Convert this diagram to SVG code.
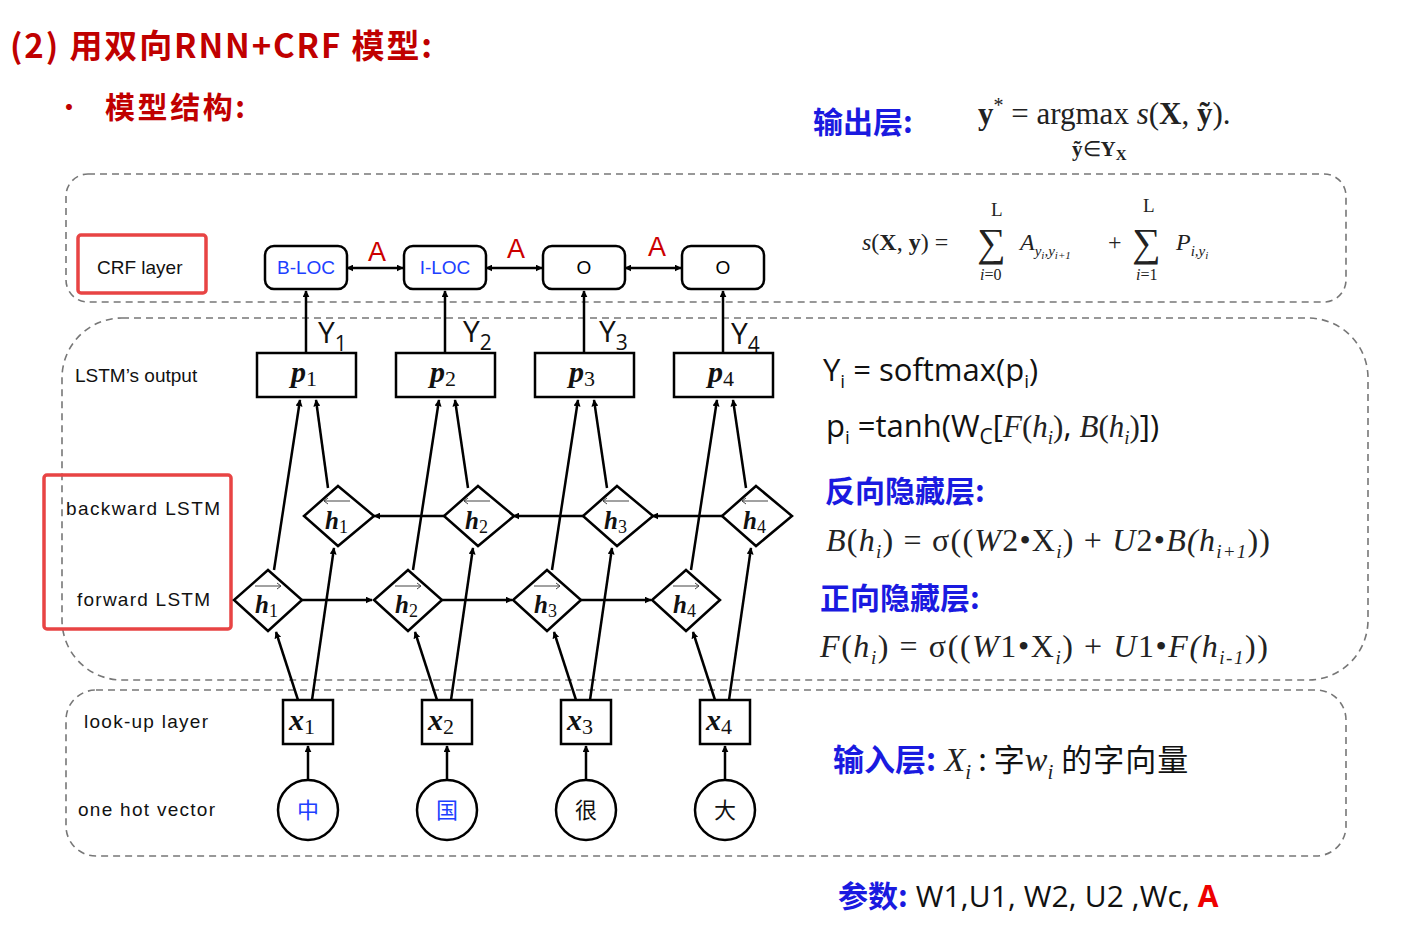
<svg xmlns="http://www.w3.org/2000/svg" width="1406" height="947" viewBox="0 0 1406 947">
<defs>
<marker id="ah" viewBox="0 0 10 10" refX="9" refY="5" markerWidth="7" markerHeight="7" orient="auto-start-reverse" markerUnits="userSpaceOnUse"><path d="M0,0 L10,5 L0,10 z" fill="#000"/></marker>
<style>
.dash{fill:none;stroke:#777;stroke-width:1.6;stroke-dasharray:7 5}
.red{fill:none;stroke:#e84444;stroke-width:3.5}
.lbl{font-family:"Liberation Sans",Arial,sans-serif;font-size:19px;fill:#111}
.box{fill:#fff;stroke:#000;stroke-width:2.5}
.dia{fill:#fff;stroke:#000;stroke-width:2.5}
.ln{stroke:#000;stroke-width:2.5;fill:none;marker-end:url(#ah)}
.m{font-family:"Liberation Serif","Times New Roman",serif;font-style:italic;font-weight:bold;fill:#111}
.cn{font-family:"Noto Sans CJK SC",sans-serif;font-weight:bold;fill:#1a1ae0}
.f{font-family:"Open Sans","Liberation Sans",sans-serif;fill:#111}
.se{font-family:"Liberation Serif",serif;fill:#222}
.tag{font-family:"Liberation Sans",sans-serif;font-size:19px}
.A{font-family:"Liberation Sans",sans-serif;font-size:27px;fill:#c00}
.ar{stroke:#444;stroke-width:1;fill:none}
</style>
</defs>
<text x="10" y="58" font-family="Noto Sans CJK SC,sans-serif" font-weight="bold" font-size="33" fill="#c00000" textLength="422">(2) 用双向RNN+CRF 模型:</text>
<text x="55" y="118" font-family="Noto Sans CJK SC,sans-serif" font-size="28" fill="#c00000">•</text>
<text x="105" y="118" font-family="Noto Sans CJK SC,sans-serif" font-weight="bold" font-size="30" fill="#c00000" textLength="140">模型结构:</text>
<text x="813" y="133" class="cn" style="font-size:30px">输出层:</text>
<text x="978" y="124" class="se" style="font-size:31px"><tspan font-weight="bold">y</tspan><tspan dy="-12" style="font-size:20px">*</tspan><tspan dy="12"> = argmax </tspan><tspan font-style="italic">s</tspan>(<tspan font-weight="bold">X</tspan>, <tspan font-weight="bold">ỹ</tspan>).</text>
<text x="1072" y="156" class="se" style="font-size:21px"><tspan font-weight="bold">ỹ</tspan>∈<tspan font-weight="bold">Y</tspan><tspan font-weight="bold" dy="4" style="font-size:15px">X</tspan></text>
<rect class="dash" x="66" y="174" width="1280" height="128" rx="22"/>
<rect class="dash" x="62" y="318" width="1306" height="362" rx="60"/>
<rect class="dash" x="66" y="690" width="1280" height="166" rx="30"/>
<g id="formula-s" class="se">
<text x="862" y="250" style="font-size:24px"><tspan font-style="italic">s</tspan>(<tspan font-weight="bold">X</tspan>, <tspan font-weight="bold">y</tspan>) =</text>
<text x="977" y="256" style="font-size:40px">∑</text>
<text x="991" y="216" style="font-size:19px">L</text>
<text x="980" y="280" style="font-size:16px"><tspan font-style="italic">i</tspan>=0</text>
<text x="1020" y="250" font-style="italic" style="font-size:24px">A<tspan dy="6" style="font-size:15px">y<tspan dy="3" style="font-size:11px">i</tspan><tspan dy="-3">,y</tspan><tspan dy="3" style="font-size:11px">i+1</tspan></tspan></text>
<text x="1108" y="250" style="font-size:24px">+</text>
<text x="1132" y="256" style="font-size:40px">∑</text>
<text x="1143" y="212" style="font-size:19px">L</text>
<text x="1136" y="280" style="font-size:16px"><tspan font-style="italic">i</tspan>=1</text>
<text x="1176" y="250" font-style="italic" style="font-size:24px">P<tspan dy="6" style="font-size:15px">i,y<tspan dy="3" style="font-size:11px">i</tspan></tspan></text>
</g>
<rect class="red" x="78" y="235" width="128" height="58" rx="3"/>
<rect class="red" x="44" y="475" width="187" height="154" rx="3"/>
<text class="lbl" x="97" y="274">CRF layer</text>
<text class="lbl" x="75" y="382">LSTM’s output</text>
<text class="lbl" x="66" y="515" textLength="154">backward LSTM</text>
<text class="lbl" x="77" y="606" textLength="133">forward LSTM</text>
<text class="lbl" x="84" y="728" textLength="124">look-up layer</text>
<text class="lbl" x="78" y="816" textLength="137">one hot vector</text>
<g id="connectors">
<path class="ln" d="M347,268 H403" marker-start="url(#ah)"/>
<path class="ln" d="M486,268 H542" marker-start="url(#ah)"/>
<path class="ln" d="M625,268 H681" marker-start="url(#ah)"/>
<path class="ln" d="M306,353 V291"/><path class="ln" d="M445,353 V291"/><path class="ln" d="M584,353 V291"/><path class="ln" d="M723,353 V291"/>
<path class="ln" d="M274,570 L300,400"/><path class="ln" d="M328,488 L316,400"/>
<path class="ln" d="M413,570 L439,400"/><path class="ln" d="M468,488 L455,400"/>
<path class="ln" d="M552,570 L578,400"/><path class="ln" d="M607,488 L594,400"/>
<path class="ln" d="M691,570 L717,400"/><path class="ln" d="M746,488 L733,400"/>
<path class="ln" d="M722,516 H652"/><path class="ln" d="M583,516 H513"/><path class="ln" d="M444,516 H374"/>
<path class="ln" d="M302,600 H372"/><path class="ln" d="M442,600 H512"/><path class="ln" d="M581,600 H651"/>
<path class="ln" d="M298,700 L276,632"/><path class="ln" d="M312,700 L334,548"/>
<path class="ln" d="M437,700 L415,632"/><path class="ln" d="M451,700 L473,548"/>
<path class="ln" d="M576,700 L554,632"/><path class="ln" d="M590,700 L612,548"/>
<path class="ln" d="M715,700 L693,632"/><path class="ln" d="M729,700 L751,548"/>
<path class="ln" d="M308,780 V746"/><path class="ln" d="M447,780 V746"/><path class="ln" d="M586,780 V746"/><path class="ln" d="M725,780 V746"/>
</g>
<text class="A" x="368" y="261">A</text><text class="A" x="507" y="258">A</text><text class="A" x="648" y="256">A</text>
<g font-family="Open Sans,Liberation Sans,sans-serif" font-size="30" fill="#111">
<text x="318" y="343">Y<tspan font-size="21" dy="8">1</tspan></text>
<text x="463" y="342">Y<tspan font-size="21" dy="8">2</tspan></text>
<text x="599" y="342">Y<tspan font-size="21" dy="8">3</tspan></text>
<text x="731" y="344">Y<tspan font-size="21" dy="8">4</tspan></text>
</g>
<g id="crf1"><rect class="box" x="265" y="246" width="82" height="43" rx="9"/><text class="tag" x="306" y="274" text-anchor="middle" fill="#2040ff">B-LOC</text></g>
<g id="crf2"><rect class="box" x="404" y="246" width="82" height="43" rx="9"/><text class="tag" x="445" y="274" text-anchor="middle" fill="#2040ff">I-LOC</text></g>
<g id="crf3"><rect class="box" x="543" y="246" width="82" height="43" rx="9"/><text class="tag" x="584" y="274" text-anchor="middle">O</text></g>
<g id="crf4"><rect class="box" x="682" y="246" width="82" height="43" rx="9"/><text class="tag" x="723" y="274" text-anchor="middle">O</text></g>
<g style="font-size:30px">
<g id="p1"><rect class="box" x="257" y="353" width="99" height="44"/><text class="m" x="291" y="382">p<tspan font-style="normal" font-weight="normal" dy="4" style="font-size:22px">1</tspan></text></g>
<g id="p2"><rect class="box" x="396" y="353" width="99" height="44"/><text class="m" x="430" y="382">p<tspan font-style="normal" font-weight="normal" dy="4" style="font-size:22px">2</tspan></text></g>
<g id="p3"><rect class="box" x="535" y="353" width="99" height="44"/><text class="m" x="569" y="382">p<tspan font-style="normal" font-weight="normal" dy="4" style="font-size:22px">3</tspan></text></g>
<g id="p4"><rect class="box" x="674" y="353" width="99" height="44"/><text class="m" x="708" y="382">p<tspan font-style="normal" font-weight="normal" dy="4" style="font-size:22px">4</tspan></text></g>
<g id="x1"><rect class="box" x="283" y="700" width="50" height="44"/><text class="m" x="289" y="730">x<tspan font-style="normal" font-weight="normal" dy="4" style="font-size:22px">1</tspan></text></g>
<g id="x2"><rect class="box" x="422" y="700" width="50" height="44"/><text class="m" x="428" y="730">x<tspan font-style="normal" font-weight="normal" dy="4" style="font-size:22px">2</tspan></text></g>
<g id="x3"><rect class="box" x="561" y="700" width="50" height="44"/><text class="m" x="567" y="730">x<tspan font-style="normal" font-weight="normal" dy="4" style="font-size:22px">3</tspan></text></g>
<g id="x4"><rect class="box" x="700" y="700" width="50" height="44"/><text class="m" x="706" y="730">x<tspan font-style="normal" font-weight="normal" dy="4" style="font-size:22px">4</tspan></text></g>
</g>
<g style="font-size:25px">
<g id="bh1"><path class="dia" d="M338,486 L374,516 L338,546 L304,516 Z"/><path class="ar" d="M324,501 H350 M324,501 l4,-3 M324,501 l4,3"/><text class="m" x="325" y="529">h<tspan font-style="normal" font-weight="normal" dy="4" style="font-size:18px">1</tspan></text></g>
<g id="bh2"><path class="dia" d="M478,486 L514,516 L478,546 L444,516 Z"/><path class="ar" d="M464,501 H490 M464,501 l4,-3 M464,501 l4,3"/><text class="m" x="465" y="529">h<tspan font-style="normal" font-weight="normal" dy="4" style="font-size:18px">2</tspan></text></g>
<g id="bh3"><path class="dia" d="M617,486 L653,516 L617,546 L583,516 Z"/><path class="ar" d="M603,501 H629 M603,501 l4,-3 M603,501 l4,3"/><text class="m" x="604" y="529">h<tspan font-style="normal" font-weight="normal" dy="4" style="font-size:18px">3</tspan></text></g>
<g id="bh4"><path class="dia" d="M756,486 L792,516 L756,546 L722,516 Z"/><path class="ar" d="M742,501 H768 M742,501 l4,-3 M742,501 l4,3"/><text class="m" x="743" y="529">h<tspan font-style="normal" font-weight="normal" dy="4" style="font-size:18px">4</tspan></text></g>
<g id="fh1"><path class="dia" d="M268,570 L302,600 L268,631 L234,600 Z"/><path class="ar" d="M255,586 H281 M281,586 l-4,-3 M281,586 l-4,3"/><text class="m" x="255" y="613">h<tspan font-style="normal" font-weight="normal" dy="4" style="font-size:18px">1</tspan></text></g>
<g id="fh2"><path class="dia" d="M408,570 L442,600 L408,631 L374,600 Z"/><path class="ar" d="M395,586 H421 M421,586 l-4,-3 M421,586 l-4,3"/><text class="m" x="395" y="613">h<tspan font-style="normal" font-weight="normal" dy="4" style="font-size:18px">2</tspan></text></g>
<g id="fh3"><path class="dia" d="M547,570 L581,600 L547,631 L513,600 Z"/><path class="ar" d="M534,586 H560 M560,586 l-4,-3 M560,586 l-4,3"/><text class="m" x="534" y="613">h<tspan font-style="normal" font-weight="normal" dy="4" style="font-size:18px">3</tspan></text></g>
<g id="fh4"><path class="dia" d="M686,570 L720,600 L686,631 L652,600 Z"/><path class="ar" d="M673,586 H699 M699,586 l-4,-3 M699,586 l-4,3"/><text class="m" x="673" y="613">h<tspan font-style="normal" font-weight="normal" dy="4" style="font-size:18px">4</tspan></text></g>
</g>
<g font-family="Noto Sans CJK SC,serif" font-size="22" text-anchor="middle">
<g id="c1"><circle cx="308" cy="810" r="30" fill="#fff" stroke="#000" stroke-width="2.5"/><text x="308" y="818" fill="#2040ff">中</text></g>
<g id="c2"><circle cx="447" cy="810" r="30" fill="#fff" stroke="#000" stroke-width="2.5"/><text x="447" y="818" fill="#2040ff">国</text></g>
<g id="c3"><circle cx="586" cy="810" r="30" fill="#fff" stroke="#000" stroke-width="2.5"/><text x="586" y="818" fill="#111">很</text></g>
<g id="c4"><circle cx="725" cy="810" r="30" fill="#fff" stroke="#000" stroke-width="2.5"/><text x="725" y="818" fill="#111">大</text></g>
</g>
<text class="f" x="823" y="381" style="font-size:31px">Y<tspan dy="7" style="font-size:19px">i</tspan><tspan dy="-7"> = softmax(p</tspan><tspan dy="7" style="font-size:19px">i</tspan><tspan dy="-7">)</tspan></text>
<text class="f" x="826" y="437" style="font-size:31px">p<tspan dy="7" style="font-size:19px">i</tspan><tspan dy="-7"> =tanh(W</tspan><tspan dy="7" style="font-size:21px">C</tspan><tspan dy="-7">[</tspan><tspan class="se" font-style="italic">F</tspan><tspan class="se">(</tspan><tspan class="se" font-style="italic">h</tspan><tspan class="se" font-style="italic" dy="7" style="font-size:19px">i</tspan><tspan dy="-7" class="se">)</tspan>, <tspan class="se" font-style="italic">B</tspan><tspan class="se">(</tspan><tspan class="se" font-style="italic">h</tspan><tspan class="se" font-style="italic" dy="7" style="font-size:19px">i</tspan><tspan dy="-7" class="se">)</tspan>])</text>
<text class="cn" x="825" y="502" style="font-size:30px">反向隐藏层:</text>
<text class="se" x="826" y="551" style="font-size:32px" textLength="444"><tspan font-style="italic">B</tspan>(<tspan font-style="italic">h</tspan><tspan font-style="italic" dy="7" style="font-size:19px">i</tspan><tspan dy="-7">) = σ((</tspan><tspan font-style="italic">W</tspan>2•X<tspan font-style="italic" dy="7" style="font-size:19px">i</tspan><tspan dy="-7">) + </tspan><tspan font-style="italic">U</tspan>2•<tspan font-style="italic">B(h</tspan><tspan font-style="italic" dy="7" style="font-size:19px">i+1</tspan><tspan dy="-7">))</tspan></text>
<text class="cn" x="820" y="609" style="font-size:30px">正向隐藏层:</text>
<text class="se" x="820" y="657" style="font-size:32px" textLength="448"><tspan font-style="italic">F</tspan>(<tspan font-style="italic">h</tspan><tspan font-style="italic" dy="7" style="font-size:19px">i</tspan><tspan dy="-7">) = σ((</tspan><tspan font-style="italic">W</tspan>1•X<tspan font-style="italic" dy="7" style="font-size:19px">i</tspan><tspan dy="-7">) + </tspan><tspan font-style="italic">U</tspan>1•<tspan font-style="italic">F(h</tspan><tspan font-style="italic" dy="7" style="font-size:19px">i-1</tspan><tspan dy="-7">))</tspan></text>
<text x="833" y="771"><tspan class="cn" style="font-size:31px">输入层:</tspan><tspan class="se" font-style="italic" style="font-size:34px"> X</tspan><tspan class="se" font-style="italic" dy="8" style="font-size:21px">i</tspan><tspan dy="-8" font-family="Noto Sans CJK SC,sans-serif" font-size="31" fill="#111">  :  字</tspan><tspan class="se" font-style="italic" style="font-size:34px">w</tspan><tspan class="se" font-style="italic" dy="8" style="font-size:21px">i</tspan><tspan dy="-8" font-family="Noto Sans CJK SC,sans-serif" font-size="31" fill="#111" textLength="135"> 的字向量</tspan></text>
<text x="838" y="907"><tspan class="cn" style="font-size:30px">参数:</tspan><tspan font-family="Open Sans,sans-serif" font-size="30" fill="#111" textLength="290">   W1,U1, W2, U2 ,Wc, </tspan><tspan font-family="Open Sans,sans-serif" font-weight="bold" font-size="30" fill="#e00">A</tspan></text>
</svg>
